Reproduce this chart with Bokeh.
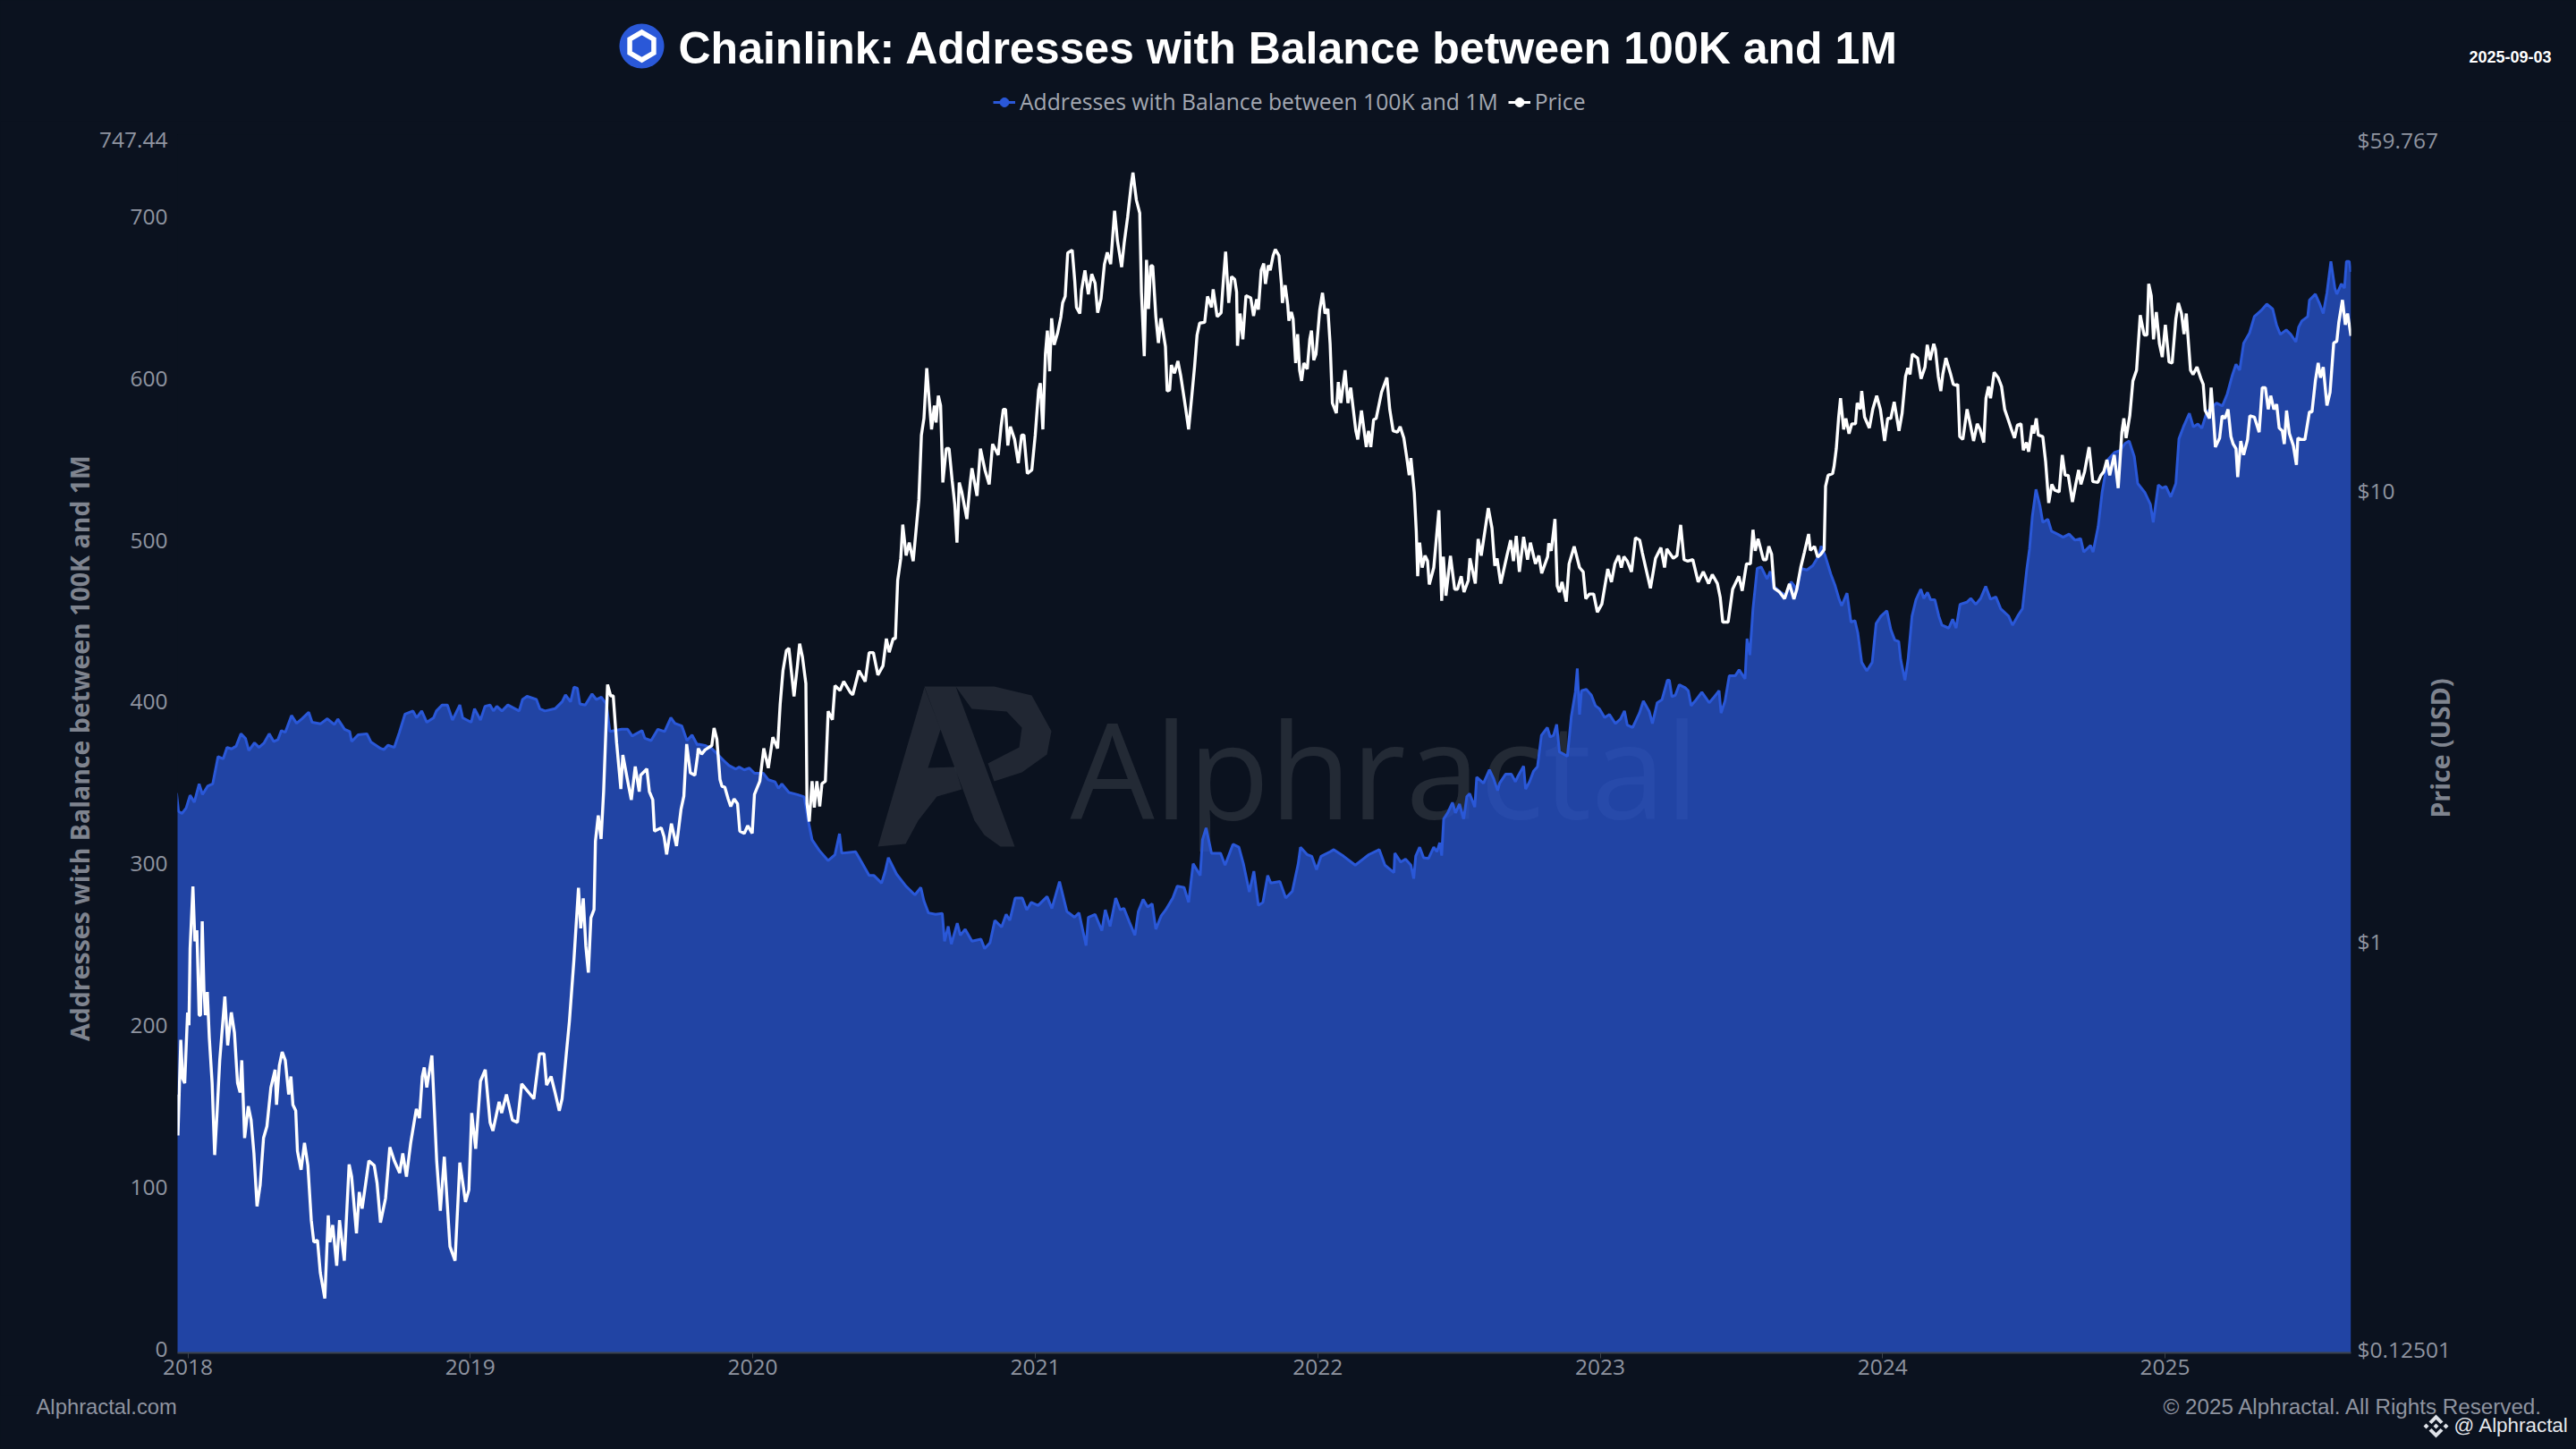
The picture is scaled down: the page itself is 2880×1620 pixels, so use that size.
from math import cos, sin, pi
from bokeh.plotting import figure
from bokeh.embed import file_html
from bokeh.layouts import column
from bokeh.resources import INLINE
from bokeh.models import (Range1d, LogScale, LinearAxis, LogAxis, FixedTicker, Label,
                          PolyAnnotation, Legend, LegendItem)

TITLE = "Chainlink: Addresses with Balance between 100K and 1M"
ADDR_NAME = "Addresses with Balance between 100K and 1M"
PRICE_NAME = "Price"
YEARS = [2018, 2019, 2020, 2021, 2022, 2023, 2024, 2025]
ADDR_TICKS = [0, 100, 200, 300, 400, 500, 600, 700, 747.44]
PRICE_TICKS = [0.12501, 1, 10, 59.767]

addr_dates = [
2017.960,2017.967,2017.979,2017.994,2018.008,2018.023,2018.040,2018.052,2018.070,2018.088,2018.107,2018.125,2018.139,2018.155,2018.171,2018.188,2018.204,2018.216,2018.236,2018.252,2018.270,2018.288,2018.304,2018.319,2018.331,2018.345,2018.367,2018.385,2018.404,2018.428,2018.440,2018.470,2018.494,2018.519,2018.531,2018.555,2018.573,2018.580,2018.603,2018.634,2018.648,2018.682,2018.694,2018.709,2018.731,2018.749,2018.769,2018.797,2018.810,2018.828,2018.846,2018.870,2018.880,2018.900,2018.919,2018.937,2018.963,2018.973,
2019.003,2019.015,2019.036,2019.052,2019.070,2019.082,2019.094,2019.112,2019.133,2019.173,2019.185,2019.201,2019.234,2019.246,2019.264,2019.300,2019.325,2019.337,2019.355,2019.367,2019.379,2019.388,2019.407,2019.431,2019.446,2019.464,2019.482,2019.494,2019.536,2019.557,2019.573,2019.608,2019.618,2019.640,2019.664,2019.688,2019.710,2019.724,2019.749,2019.767,2019.785,2019.804,
2019.807,2019.831,2019.855,2019.897,2019.916,2019.940,2019.952,2019.970,2019.988,2020.006,2020.037,2020.055,2020.079,2020.091,2020.103,2020.128,2020.158,2020.182,
2020.194,2020.210,2020.235,2020.267,2020.291,2020.307,2020.315,2020.364,2020.385,2020.412,2020.429,2020.456,2020.469,2020.480,2020.509,2020.542,2020.574,2020.595,2020.606,2020.622,2020.647,2020.671,2020.679,2020.692,2020.703,2020.724,2020.735,2020.752,2020.776,2020.808,2020.821,2020.840,2020.857,2020.881,2020.897,2020.910,2020.929,2020.954,2020.970,2020.986,
2021.010,2021.042,2021.059,2021.086,2021.112,2021.139,2021.155,2021.180,2021.188,2021.212,2021.236,2021.248,2021.265,2021.285,2021.301,2021.314,2021.333,2021.353,2021.365,2021.382,2021.398,2021.414,2021.427,2021.446,2021.462,2021.487,2021.503,2021.527,2021.543,2021.559,2021.584,2021.592,2021.605,2021.624,2021.656,2021.672,2021.700,2021.721,2021.737,2021.758,2021.774,2021.790,2021.806,2021.823,2021.834,2021.866,2021.887,2021.910,2021.931,2021.939,2021.963,2021.979,2021.996,
2022.012,2022.044,2022.057,2022.092,2022.133,2022.181,2022.218,2022.238,2022.270,2022.273,2022.294,2022.311,2022.330,
2022.340,2022.347,2022.361,2022.375,2022.392,2022.411,2022.422,2022.432,2022.439,2022.446,2022.460,2022.477,2022.488,2022.502,2022.517,2022.528,2022.538,2022.556,2022.563,2022.587,2022.608,2022.623,2022.637,2022.644,2022.665,2022.686,2022.700,2022.710,2022.729,2022.736,2022.750,2022.764,2022.778,2022.792,2022.813,2022.823,2022.835,2022.846,2022.856,2022.884,2022.898,2022.912,2022.919,2022.927,2022.934,2022.951,2022.969,2022.983,2022.997,
2023.016,2023.033,2023.054,2023.072,2023.086,2023.096,2023.115,2023.139,2023.153,2023.174,2023.185,2023.202,2023.219,2023.238,2023.245,2023.254,2023.266,2023.280,2023.301,2023.312,2023.322,2023.336,2023.360,2023.386,2023.400,2023.421,2023.428,2023.442,2023.457,2023.478,2023.492,2023.513,2023.520,2023.530,2023.541,2023.556,2023.570,2023.591,2023.602,2023.615,2023.640,2023.657,2023.676,2023.697,2023.711,2023.732,2023.753,2023.775,2023.782,2023.796,2023.817,2023.831,2023.845,2023.855,2023.874,2023.888,2023.902,2023.912,2023.926,2023.944,2023.963,2023.977,2023.994,
2024.015,2024.029,2024.043,2024.057,2024.064,2024.079,2024.090,2024.104,2024.118,2024.135,2024.146,2024.159,2024.170,2024.185,2024.199,2024.210,2024.234,2024.248,2024.260,2024.274,2024.298,2024.312,2024.330,2024.347,2024.365,2024.382,2024.401,2024.418,2024.446,2024.460,2024.481,2024.495,2024.510,
2024.520,2024.530,2024.543,2024.557,2024.567,2024.585,2024.598,2024.619,2024.639,2024.660,2024.681,2024.701,2024.712,2024.736,2024.745,2024.763,2024.777,2024.797,2024.822,2024.841,2024.859,2024.873,2024.891,2024.903,2024.928,2024.948,2024.958,2024.976,2024.990,
2025.003,2025.020,2025.038,2025.049,2025.065,2025.086,2025.100,2025.116,2025.130,2025.148,2025.182,2025.203,2025.220,2025.237,2025.251,2025.264,2025.278,2025.299,2025.316,2025.340,2025.360,2025.381,2025.395,2025.408,2025.429,2025.445,2025.463,2025.473,2025.484,2025.505,2025.511,2025.532,2025.546,2025.560,2025.573,2025.587,2025.601,2025.608,2025.624,2025.635,2025.642,2025.652,2025.658,
]

addr_values = [
345.9,334.7,333.3,336.7,344.6,340.3,351.6,345.1,350.2,351.6,368.5,367.1,374.2,373.3,375,382.6,379.8,372.2,377,374.2,377,382.6,377.8,379,384.6,383.5,393.9,389.1,391.9,395.9,389.7,388.8,391.9,388.3,391.7,385.4,384,377.8,382,382.6,377.6,373.6,372.8,375.6,374.2,383.5,394.8,396.7,392.5,396.7,389.7,392.5,396.7,400.4,400.4,391.1,400.4,392.5,
389.7,398.1,391.1,399.6,400.4,396.7,399.6,396.7,400.4,396.7,403.8,405.8,403.8,398.1,396.7,398.1,402.4,406.6,402.4,411.4,410.8,401,400.4,407.2,403.8,405.2,401,384,385.4,385.4,381.2,384.6,379.8,378.4,385.4,384,392.5,389.1,387.4,378.4,381.8,375.6,
376.2,375.4,373.5,366.1,363,360.8,362.1,360.3,361.4,358.2,358.2,354.2,352.9,348.9,351.6,346.3,345,343.6,
330.9,317.1,310.6,304.2,307.9,320.8,308.8,309.7,303.3,295,295,290.3,297.7,306,295.9,288.5,283,287.6,279.3,271.9,271,271.6,254.4,263.6,252.6,265.5,258.1,261.8,254.4,255.7,249.8,253.5,267.3,263.1,271,267.3,281.1,281.1,273.8,278.4,
276.5,282,274.7,291.3,272.8,269.2,271.9,251.7,269.2,271,260.9,273.8,263.6,281.1,273.8,274.7,266.4,258.1,272.8,280.2,275.6,277.5,261.8,270.1,273.8,281.1,288.5,287.6,278.4,302.3,295,317.1,324.4,308.8,308.8,301.4,314.3,312.5,302.3,284.8,297.7,276.5,278.4,295,290.3,291.3,281.1,285.2,302.3,312.5,307.9,306.9,298.6,
306.9,309.7,311,306.9,301.4,307.9,311,301.4,296.8,308.8,303.3,305.1,301.4,
293.1,307,312.5,306,305.5,312.5,309.7,315.2,307.3,330,333.7,340.1,333.7,339.2,330,343.8,345.6,337.3,355.8,352.1,360.4,354.8,347.5,352.1,357.6,357.6,353,356.7,362.6,348.4,353,359.4,362.2,381.6,386.5,380.6,381.6,388.4,371.4,368.7,393.5,408.3,423,394.5,409.2,410.1,406.4,400,398.1,
392.6,394.5,388.9,391.7,396.7,388,386.5,395.4,402.8,396.3,388.9,401.8,403.7,415.7,415.7,405.5,406.4,412.9,411.1,409.2,400,402.8,408.3,401.8,404.6,409.2,395.4,402.8,418.4,418.4,422.1,416.6,441.4,431.3,459.9,484.8,485.7,478.3,482.9,473.7,470,468.2,476.5,471.9,484.8,483.8,486.6,493,498.6,493,481.1,474.6,466.3,461.7,469.5,451.6,452.5,445.1,426.7,421.5,426.7,450.7,455.3,
458.6,447,440.5,439.6,428.5,415.7,428.5,455.3,465.4,471.9,466.3,470,465.4,465.4,455.3,449.7,447.9,453.4,447.9,462.6,463.9,466.3,462.6,466.3,473.7,465.8,467.2,459.9,455.3,449.7,456.2,459.9,483.8,
496.7,517,533.6,523.5,513.3,515.2,507.8,506,504.1,506,502.3,503.2,494.9,499,494.9,510.6,531.8,552,556.6,557.6,562.2,563.5,553.9,537.3,531.8,524.4,513.3,536.4,534.5,
535.4,529,537.3,564.9,572.3,580.6,572.3,574.1,571.4,581.5,587,585.2,592.6,603.6,611,607.3,623.9,630.3,640.5,644.2,648.2,645.1,635,629.4,632.2,629.4,624.8,634,637.7,640.5,650.6,654.3,648.8,642.3,655.2,674.6,658,654.3,660.7,658,674.6,674.6,668.1,
]

price_dates = [
2017.960,2017.965,2017.975,2017.982,2017.989,2017.999,2018.004,2018.008,2018.018,2018.025,2018.032,2018.040,2018.045,2018.051,2018.057,2018.062,2018.069,2018.076,2018.086,2018.095,2018.103,2018.113,2018.131,2018.141,2018.154,2018.165,2018.176,2018.185,2018.191,2018.201,2018.214,2018.224,2018.234,2018.245,2018.256,2018.268,2018.280,2018.294,2018.309,2018.314,2018.324,2018.334,2018.345,2018.357,2018.365,2018.372,2018.382,2018.388,2018.401,2018.413,2018.425,2018.437,2018.446,2018.459,2018.469,2018.485,2018.497,2018.503,2018.513,2018.527,2018.537,2018.554,2018.571,2018.580,2018.593,2018.597,2018.607,2018.617,2018.641,2018.660,2018.670,2018.682,2018.700,2018.715,2018.731,2018.750,2018.761,2018.774,2018.789,2018.809,2018.820,2018.830,2018.837,2018.846,2018.864,2018.881,2018.894,2018.908,2018.928,2018.946,2018.963,2018.983,2018.995,
2019.005,2019.019,2019.036,2019.053,2019.070,2019.080,2019.102,2019.111,2019.128,2019.149,2019.167,2019.182,2019.209,2019.225,2019.245,2019.261,2019.270,2019.286,2019.300,2019.315,2019.325,2019.337,2019.351,2019.367,2019.383,2019.391,2019.400,2019.409,2019.418,2019.427,2019.438,2019.443,2019.453,2019.463,2019.472,2019.486,2019.497,2019.506,2019.518,2019.533,2019.540,2019.555,2019.570,2019.584,2019.598,2019.603,2019.625,2019.634,2019.646,2019.652,2019.676,2019.686,2019.695,2019.712,2019.730,2019.746,2019.756,2019.766,2019.779,2019.795,2019.805,
2019.807,2019.819,2019.831,2019.855,2019.863,2019.873,2019.884,2019.891,2019.901,2019.913,2019.922,2019.934,2019.946,2019.954,2019.970,2019.982,2019.998,
2020.006,2020.025,2020.039,2020.055,2020.071,2020.088,2020.097,2020.107,2020.119,2020.128,2020.146,2020.158,2020.166,2020.176,2020.188,2020.192,2020.200,2020.210,2020.218,2020.227,2020.237,2020.245,2020.257,2020.267,2020.282,2020.291,2020.309,2020.322,2020.346,2020.354,2020.376,2020.398,2020.412,2020.427,2020.443,2020.461,2020.473,2020.483,2020.497,2020.505,2020.513,2020.524,2020.531,2020.543,2020.554,2020.568,2020.578,2020.588,2020.597,2020.606,2020.616,2020.625,2020.633,2020.643,2020.649,2020.657,2020.665,2020.673,2020.685,2020.695,2020.706,2020.715,2020.723,2020.731,2020.740,2020.758,2020.770,2020.776,2020.794,2020.806,2020.822,2020.837,2020.849,2020.869,2020.879,2020.887,2020.895,2020.903,2020.912,2020.927,2020.940,2020.952,2020.960,2020.972,2020.988,
2021.000,2021.012,2021.018,2021.027,2021.036,2021.043,2021.051,2021.058,2021.067,2021.079,2021.091,2021.097,2021.106,2021.115,2021.131,2021.140,2021.146,2021.158,2021.164,2021.176,2021.188,2021.200,2021.212,2021.221,2021.233,2021.245,2021.255,2021.267,2021.281,2021.291,2021.306,2021.315,2021.327,2021.340,2021.346,2021.358,2021.370,2021.376,2021.386,2021.394,2021.401,2021.409,2021.416,2021.427,2021.436,2021.445,2021.461,2021.467,2021.476,2021.482,2021.493,2021.505,2021.515,2021.533,2021.543,2021.554,2021.564,2021.573,2021.582,2021.600,2021.610,2021.624,2021.630,2021.644,2021.658,2021.667,2021.674,2021.685,2021.695,
2021.706,2021.713,2021.716,2021.725,2021.735,2021.746,2021.763,2021.773,2021.784,2021.790,2021.800,2021.809,2021.815,2021.825,2021.832,2021.842,2021.850,2021.863,2021.872,2021.875,2021.885,2021.894,2021.898,2021.907,2021.913,2021.922,2021.929,2021.936,2021.943,2021.951,2021.963,2021.972,2021.978,2021.986,2021.994,
2022.007,2022.017,2022.026,2022.036,2022.044,2022.052,2022.066,2022.073,2022.082,2022.097,2022.107,2022.117,2022.126,2022.135,2022.142,2022.155,2022.172,2022.180,2022.188,2022.198,2022.207,2022.226,2022.245,2022.255,2022.267,2022.282,2022.292,2022.305,2022.314,2022.324,2022.330,2022.342,2022.349,2022.354,2022.361,2022.370,2022.380,2022.389,2022.395,2022.411,2022.429,2022.439,2022.445,2022.454,2022.470,2022.485,2022.495,2022.508,2022.518,2022.533,2022.539,2022.548,2022.558,2022.568,2022.579,2022.604,2022.617,2022.627,2022.635,2022.648,2022.670,2022.683,2022.693,2022.703,2022.714,2022.729,2022.743,2022.753,2022.771,2022.783,2022.793,2022.814,2022.818,2022.827,2022.840,2022.848,2022.856,2022.865,2022.880,2022.890,2022.908,2022.927,2022.940,2022.949,2022.962,2022.977,2022.990,
2023.006,2023.027,2023.040,2023.052,2023.065,2023.075,2023.084,2023.096,2023.111,2023.125,2023.140,2023.149,2023.161,2023.178,2023.196,2023.215,2023.228,2023.236,2023.259,2023.272,2023.285,2023.297,2023.309,2023.328,2023.347,2023.365,2023.384,2023.397,2023.415,2023.425,2023.434,2023.453,2023.469,2023.491,2023.503,2023.518,2023.532,2023.541,2023.549,2023.559,2023.578,2023.588,2023.597,2023.607,2023.616,2023.635,2023.653,
2023.670,2023.686,2023.696,2023.710,2023.723,2023.738,2023.744,2023.759,2023.770,2023.781,2023.793,2023.798,2023.807,2023.823,2023.828,2023.836,2023.844,2023.851,2023.862,2023.870,2023.881,2023.891,2023.904,2023.910,2023.921,2023.926,2023.936,2023.953,2023.965,2023.979,2023.992,
2024.007,2024.018,2024.029,2024.041,2024.058,2024.069,2024.081,2024.089,2024.097,2024.105,2024.124,2024.136,2024.150,2024.158,2024.168,2024.181,2024.187,2024.197,2024.206,2024.213,2024.224,2024.240,2024.250,2024.261,2024.266,2024.273,2024.284,2024.299,2024.311,2024.322,2024.335,2024.345,2024.358,2024.366,2024.375,2024.382,2024.395,2024.409,2024.421,2024.432,2024.443,2024.456,2024.467,2024.477,2024.490,2024.498,2024.509,2024.517,2024.530,2024.535,2024.544,2024.551,2024.567,2024.577,2024.588,2024.599,2024.609,2024.625,2024.636,2024.646,2024.657,2024.672,2024.683,2024.694,2024.702,2024.715,2024.731,2024.744,2024.762,2024.773,2024.783,2024.794,2024.804,2024.820,2024.834,2024.847,2024.854,2024.862,2024.875,2024.886,2024.899,2024.912,2024.926,2024.936,
2024.942,2024.951,2024.959,2024.969,2024.980,2024.990,
2025.001,2025.014,2025.025,2025.038,2025.047,2025.058,2025.067,2025.075,2025.083,2025.090,2025.099,2025.113,2025.127,2025.135,2025.142,2025.157,2025.163,2025.172,2025.178,2025.193,2025.202,2025.212,2025.223,2025.233,2025.241,2025.251,2025.257,2025.268,2025.278,2025.292,2025.300,2025.316,2025.333,2025.344,2025.355,2025.365,2025.374,2025.385,2025.395,2025.404,2025.415,2025.422,2025.430,2025.440,2025.454,2025.465,2025.470,2025.481,2025.495,2025.511,2025.520,2025.532,2025.542,2025.550,2025.560,2025.573,2025.584,2025.597,2025.608,2025.615,2025.628,2025.638,2025.646,2025.658,
]

price_values = [
.467,.379,.617,.506,.495,.709,.665,.984,1.35,1.02,1.08,.70,.70,1.13,.80,.70,.788,.624,.495,.343,.42,.556,.77,.60,.71,.64,.495,.472,.556,.374,.44,.41,.346,.264,.294,.374,.397,.484,.53,.443,.542,.58,.556,.467,.512,.443,.43,.35,.318,.365,.325,.246,.22,.222,.188,.165,.252,.22,.24,.195,.246,.2,.327,.307,.246,.23,.284,.261,.333,.325,.297,.243,.275,.357,.333,.313,.346,.307,.365,.434,.414,.512,.536,.484,.57,.333,.258,.34,.215,.2,.33,.27,.287,
.425,.354,.5,.53,.405,.388,.45,.425,.467,.41,.405,.493,.47,.457,.575,.575,.49,.512,.472,.43,.457,.55,.68,.93,1.34,1.09,1.27,.995,.87,1.15,1.2,1.7,1.94,1.72,2.19,3.78,3.57,3.57,2.81,2.22,2.64,2.35,2.1,2.49,2.19,2.38,2.46,2.19,2.1,1.79,1.82,1.74,1.59,1.86,1.66,2.0,2.14,2.79,2.41,2.38,2.64,
2.73,2.65,2.71,2.77,3.03,2.86,2.33,2.25,2.24,2.11,2.03,2.11,2.06,1.79,1.77,1.84,1.77,
2.16,2.31,2.73,2.47,2.89,2.73,3.42,4.06,4.5,4.55,3.56,4.16,4.66,4.35,3.8,2.06,1.88,2.31,2.02,2.31,2.03,2.28,2.31,3.3,3.16,3.76,3.67,3.84,3.63,3.59,4.06,3.84,4.45,4.45,3.97,4.16,4.78,4.46,4.78,4.78,6.43,7.2,8.55,7.3,7.8,7.1,8.3,9.7,13.5,14.7,19.0,16.0,13.9,15.7,14.4,16.5,15.7,10.6,12.6,12.6,10.7,9.5,7.8,10.6,10.1,8.8,10.6,11.4,9.9,12.6,11.3,10.5,12.9,12.2,14.1,15.4,15.4,12.8,14.1,13.2,11.7,13.5,13.5,11.1,11.3,
13.5,17.0,17.6,13.9,20.4,23,18.7,24.5,21.4,22.7,24.7,26.5,27.4,34.2,34.7,29.6,25.9,25.1,28.3,31.3,27.7,30.7,29.3,25.2,27.1,32.3,34.3,32.3,42.4,36.4,31.8,36,41,48.5,51.5,44.8,41.9,28,20.2,33,25.7,32,32,24.7,21.6,24.5,21.2,16.9,17,19.3,18.5,19.7,18.3,15.4,13.9,16.4,19.1,22.5,23.9,24,27.4,25.9,28.4,24.7,25.2,30.3,34.4,26.5,30.3,
29.9,28,21.3,25.1,22,27.5,27.2,24.8,27,25.6,31.3,32.4,29.2,32.1,31.3,33.7,34.8,33.7,29,26.5,29,26.2,24.2,25.3,24.4,19.5,22.6,18.8,17.8,19.5,18.9,22,23,19.8,20.4,
25.5,27.9,25.1,25.7,21.5,15.9,15.1,17.7,15.9,18.8,15.9,17.2,15.4,13.8,13.2,15.3,12.7,13.8,12.7,14.6,14.7,16.8,18.1,15.4,13.8,13.7,14.1,13.3,12.2,11,12,10.06,8.27,6.57,7.8,6.87,7.3,7.1,6.3,6.87,9.2,5.8,7.26,5.95,7.29,6.15,6.15,6.57,6.06,6.43,7.2,6.77,6.33,7.95,7.3,9.3,8.4,6.93,7.2,6.33,7.3,7.9,7.1,8.07,6.72,8.03,7.15,7.8,7,7.3,6.67,7.26,7.77,7.48,8.8,6.25,6.06,6.38,5.77,7,7.65,6.87,6.72,5.86,6,6,5.47,
5.7,6.82,6.38,7,7.3,6.87,7.26,7.1,6.72,8,7.9,7.42,6.87,6.18,7.2,7.6,6.87,7.55,7.2,7.3,8.54,7.15,7.1,7.15,6.38,6.72,6.33,6.63,6.33,5.9,5.2,5.2,6.15,6.57,6.1,7,7,8.33,7.48,7.95,7.15,7.15,7.65,7.35,6.18,6.06,5.86,
6.32,5.85,6.14,6.87,7.42,8.15,7.5,7.65,7.25,7.35,7.53,10.4,11,11.1,11.5,12.6,14.7,16.3,13.9,14.7,13.6,14.3,14.3,15.9,15.4,16.9,14.8,14,15.4,16.5,15.4,
13.1,14.7,14.7,16,13.8,15.1,18.2,19,18.4,20.4,20,18,19.1,21.4,19.8,21.5,20.9,18.2,16.9,18.4,20,18.5,17.5,17.4,17.5,13.4,13.2,15.4,14.2,13.1,14.3,13.9,13,16.3,17.3,16.3,18.6,18.1,17.3,15.4,14.7,13.9,13.3,14.2,14.3,12.5,13,12.4,14.2,13.6,14.7,13.5,13.4,11.8,9.55,10.5,10.2,10.1,12.2,11,11,9.6,10.45,11.3,10.5,11.2,12.7,10.65,10.6,11,11.2,11.9,11,12.2,10.3,13.7,14.7,13.3,14.9,17.8,18.8,24.9,22.5,22.5,
29.2,27.5,22,25.3,21.5,20.1,
23.7,19.6,19.5,24.4,26.5,25.1,22.6,25.1,21.5,18.8,18.4,19.1,18,17.5,15.3,14.7,17.2,14.5,12.7,13.3,14.9,14.7,15.4,13.4,12.9,12.6,10.9,13.1,12.2,13.2,14.9,14.8,13.7,17.2,17.2,15.4,16.5,15.4,15.8,14,13.8,12.9,15.3,13.6,12.8,11.6,13.3,13.2,13.2,15.2,15.2,17.8,19.5,18.1,19.1,15.7,16.8,21.6,21.8,24,26.9,23.7,25.1,22.4,
]

BG = "#0b121f"
BLUE = "#2a58d8"
MUTED = "#8f94a0"
UI_FONT = "Open Sans"
ARIAL = "Liberation Sans"

W = 2880
HEAD_H, MAIN_BOTTOM, PAGE_H = 135, 1560, 1620
FR_L, FR_R, FR_T, FR_B = 198, 2628, 150, 1512
PX_PER_ADDR = 1.809
PX_PER_DECADE = 504.6
LABEL_LIFT = 4

x0 = 2018 + (FR_L - 209.5) / 315.8
x1 = 2018 + (FR_R - 209.5) / 315.8
addr_top = (FR_B - FR_T) / PX_PER_ADDR
price_low = 0.12501
price_high = price_low * 10 ** ((FR_B - FR_T) / PX_PER_DECADE)
lift_log = 10 ** (LABEL_LIFT / PX_PER_DECADE)
lift_addr = LABEL_LIFT / PX_PER_ADDR


def strip(height):
    f = figure(width=W, height=height, output_backend="svg", toolbar_location=None,
               x_range=Range1d(0, W), y_range=Range1d(0, height),
               x_axis_location=None, y_axis_location=None,
               background_fill_color=BG, border_fill_color=BG, outline_line_color=None,
               min_border=0, frame_align=False)
    f.grid.visible = False
    return f


head = strip(HEAD_H)
foot = strip(PAGE_H - MAIN_BOTTOM)

p = figure(width=W, height=MAIN_BOTTOM - HEAD_H, output_backend="svg", toolbar_location=None,
           x_range=Range1d(x0, x1), y_range=Range1d(0, addr_top), y_axis_location=None,
           background_fill_color=BG, border_fill_color=BG, outline_line_color=None,
           min_border_left=FR_L, min_border_right=W - FR_R,
           min_border_top=FR_T - HEAD_H, min_border_bottom=MAIN_BOTTOM - FR_B, frame_align=False)
p.extra_y_ranges = {
    "price": Range1d(price_low, price_high),
    "price_labels": Range1d(price_low / lift_log, price_high / lift_log),
    "addr_labels": Range1d(-lift_addr, addr_top - lift_addr),
}
p.extra_y_scales = {"price": LogScale(), "price_labels": LogScale()}
p.grid.visible = False

xa = p.xaxis[0]
xa.ticker = FixedTicker(ticks=YEARS)
xa.major_label_overrides = {y: str(y) for y in YEARS}
xa.axis_line_color = "#3c424c"
xa.axis_line_width = 2
xa.major_tick_line_color = "#3c424c"
xa.major_tick_in = 0
xa.major_tick_out = 6
xa.minor_tick_line_color = None
xa.major_label_standoff = 1
xa.major_label_text_color = MUTED
xa.major_label_text_font = UI_FONT
xa.major_label_text_font_size = "24.5px"

la = LinearAxis(y_range_name="addr_labels", ticker=FixedTicker(ticks=ADDR_TICKS),
                major_label_overrides={t: (str(t)) for t in ADDR_TICKS},
                axis_line_color=None, major_tick_line_color=None, minor_tick_line_color=None,
                major_label_standoff=5, major_label_text_color=MUTED,
                major_label_text_font=UI_FONT, major_label_text_font_size="24.5px")
p.add_layout(la, "left")
ra = LogAxis(y_range_name="price_labels", ticker=FixedTicker(ticks=PRICE_TICKS),
             major_label_overrides={t: "$" + str(t) for t in PRICE_TICKS},
             axis_line_color=None, major_tick_line_color=None, minor_tick_line_color=None,
             major_label_standoff=1, major_label_text_color=MUTED,
             major_label_text_font=UI_FONT, major_label_text_font_size="24.5px")
p.add_layout(ra, "right")

# watermark beneath the translucent area
WM = "#ffffff"
logo_right = ([1033, 1089, 1100, 1118, 1134, 1068], [767, 917, 933, 946, 946, 767])
logo_left = ([1033, 1051, 1037, 1067, 1075, 1047, 1026, 1012, 981], [768, 815, 858, 857, 882, 890, 917, 943, 946])
logo_p = ([1068, 1111, 1153, 1175, 1170, 1142, 1111, 1104, 1139, 1142, 1125, 1086],
          [767, 767, 777, 817, 843, 863, 873, 853, 835, 813, 795, 792])
for xs, ys in (logo_right, logo_left, logo_p):
    p.add_layout(PolyAnnotation(xs=xs, ys=[v - HEAD_H for v in ys], xs_units="canvas", ys_units="canvas",
                                fill_color=WM, fill_alpha=0.09, line_color=None, level="underlay"))
p.add_layout(Label(x=1196, y=858 - HEAD_H, x_units="canvas", y_units="canvas", text="Alphractal",
                   text_font=UI_FONT, text_font_size="149px", text_color=WM, text_alpha=0.1,
                   text_align="left", text_baseline="middle", level="underlay"))

p.varea(addr_dates, y1=0, y2=addr_values, fill_color=BLUE, fill_alpha=0.72)
p.line(addr_dates, addr_values, line_color=BLUE, line_width=3)
p.line(price_dates, price_values, line_color="#ffffff", line_width=3.4, y_range_name="price")

# legend lives in the header strip; its keys sit outside the strip's visible range
OUT = [-100]
addr_key = head.line(OUT, OUT, line_color=BLUE, line_width=3)
addr_dot = head.scatter(OUT, OUT, size=10, color=BLUE)
price_key = head.line(OUT, OUT, line_color="#ffffff", line_width=3)
price_dot = head.scatter(OUT, OUT, size=10, color="#ffffff")
legend = Legend(items=[LegendItem(label=ADDR_NAME, renderers=[addr_key, addr_dot]),
                       LegendItem(label=PRICE_NAME, renderers=[price_key, price_dot])],
                orientation="horizontal", location=(1110, HEAD_H - 115 - 15),
                background_fill_alpha=0, border_line_alpha=0, padding=0, margin=0,
                glyph_width=25, glyph_height=30, label_standoff=5, spacing=11,
                label_text_color="#a3a8b2", label_text_font=UI_FONT, label_text_font_size="24.7px",
                label_height=30)
head.add_layout(legend, "center")


def text(fig, x, y, s, size, color, font=UI_FONT, style="normal", align="left", angle=0, place="center"):
    fig.add_layout(Label(x=x, y=y, x_units="canvas", y_units="canvas", text=s,
                         text_font=font, text_font_size=size, text_color=color, text_font_style=style,
                         text_align=align, text_baseline="middle", angle=angle), place)


text(head, 758, 53, TITLE, "50px", "#ffffff", ARIAL, "bold")
text(head, 2806, 63, "2025-09-03", "18px", "#ffffff", ARIAL, "bold", "center")
text(p, 88, 836 - HEAD_H, ADDR_NAME, "28.5px", "#7f848f", UI_FONT, "bold", "center", pi / 2, "left")
text(p, 2727, 836 - HEAD_H, "Price (USD)", "28.5px", "#7f848f", UI_FONT, "bold", "center", pi / 2, "right")
text(foot, 40, 1572 - MAIN_BOTTOM, "Alphractal.com", "23.8px", MUTED, ARIAL)
text(foot, 2418, 1572 - MAIN_BOTTOM, "\u00a9 2025 Alphractal. All Rights Reserved.", "24.2px", MUTED, ARIAL)
text(foot, 2743, 1593 - MAIN_BOTTOM, "@ Alphractal", "22.4px", "#e6e8ec", ARIAL)


def poly(fig, pts, top=0, **kw):
    fig.add_layout(PolyAnnotation(xs=[a for a, b in pts], ys=[b - top for a, b in pts],
                                  xs_units="canvas", ys_units="canvas", **kw))


# coin icon
ICX, ICY = 717, 51
poly(head, [(ICX + 25 * cos(i * pi / 30), ICY + 25 * sin(i * pi / 30)) for i in range(60)],
     fill_color=BLUE, fill_alpha=1, line_color=None)
poly(head, [(ICX + 15.5 * sin(i * pi / 3), ICY + 15.5 * cos(i * pi / 3)) for i in range(6)],
     fill_alpha=0, line_color="#ffffff", line_alpha=1, line_width=5.5, line_join="miter")

# exchange mark beside the handle
BIX, BIY = 2723, 1594
for dx in (0, -11, 11):
    r = 3
    poly(foot, [(BIX + dx + r, BIY), (BIX + dx, BIY + r), (BIX + dx - r, BIY), (BIX + dx, BIY - r)],
         top=MAIN_BOTTOM, fill_color="#dfe2e8", fill_alpha=1, line_color=None)
for sgn in (-1, 1):
    poly(foot, [(BIX, BIY + sgn * 13), (BIX + 8, BIY + sgn * 5), (BIX + 5, BIY + sgn * 2.5), (BIX, BIY + sgn * 7.5),
                (BIX - 5, BIY + sgn * 2.5), (BIX - 8, BIY + sgn * 5)],
         top=MAIN_BOTTOM, fill_color="#dfe2e8", fill_alpha=1, line_color=None)

assert len(addr_dates) == len(addr_values), (len(addr_dates), len(addr_values))
assert len(price_dates) == len(price_values), (len(price_dates), len(price_values))

page = column(head, p, foot, spacing=0)
html = file_html(page, INLINE)
html = html.replace("<head>", f"<head><style>html,body{{background:{BG};}}</style>", 1)
open("out.html", "w").write(html)
